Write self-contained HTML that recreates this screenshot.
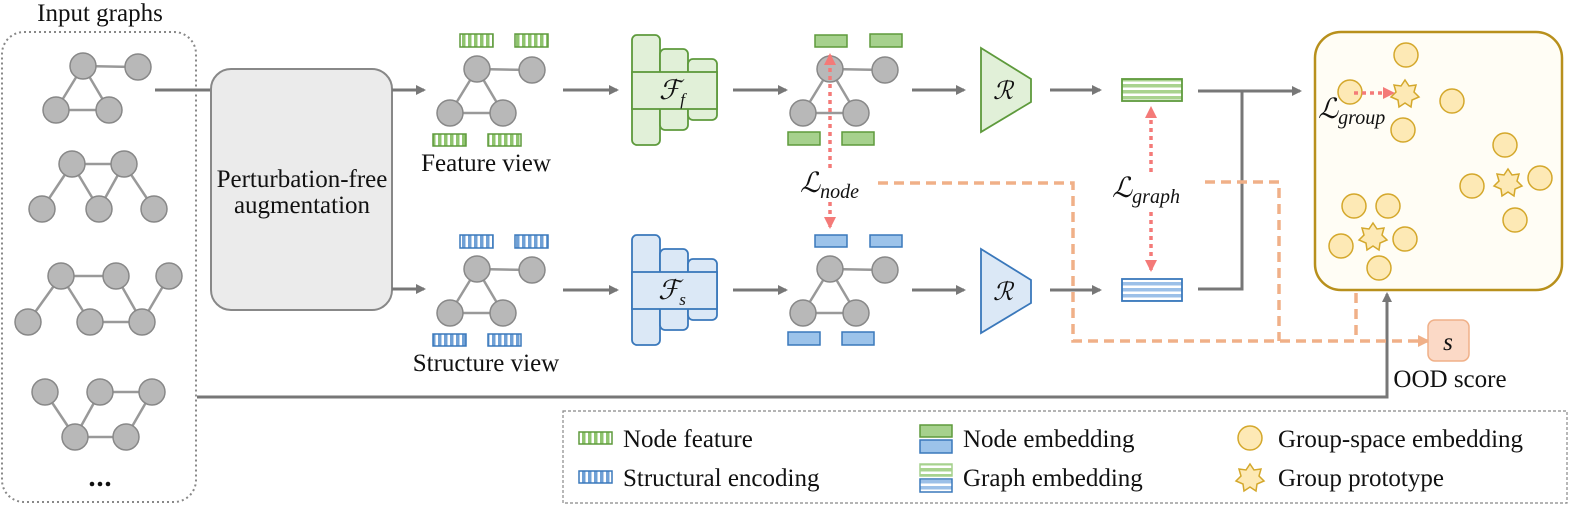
<!DOCTYPE html>
<html><head><meta charset="utf-8"><style>
html,body{margin:0;padding:0;background:#fff;}
svg{display:block;}
text{font-family:"Liberation Serif",serif;fill:#111;}
.m{font-style:italic;}
</style></head><body>
<svg width="1571" height="506" viewBox="0 0 1571 506" xmlns="http://www.w3.org/2000/svg">
<defs>
<pattern id="vg" width="6" height="10" patternUnits="userSpaceOnUse"><rect width="6" height="10" fill="#fff"/><rect width="3.5" height="10" fill="#8fc46e"/></pattern>
<pattern id="vb" width="6" height="10" patternUnits="userSpaceOnUse"><rect width="6" height="10" fill="#fff"/><rect width="3.5" height="10" fill="#6fa0d6"/></pattern>
<pattern id="hg" width="10" height="6" patternUnits="userSpaceOnUse"><rect width="10" height="6" fill="#fff"/><rect width="10" height="3.5" fill="#a9d38f"/></pattern>
<pattern id="hb" width="10" height="6" patternUnits="userSpaceOnUse"><rect width="10" height="6" fill="#fff"/><rect width="10" height="3.5" fill="#9cc0e8"/></pattern>
<marker id="ag" markerWidth="10" markerHeight="10" refX="8" refY="5" orient="auto" markerUnits="userSpaceOnUse"><path d="M0,0 L10,5 L0,10 z" fill="#777"/></marker>
<marker id="ar" markerWidth="12" markerHeight="12" refX="10" refY="6" orient="auto" markerUnits="userSpaceOnUse"><path d="M0,0 L12,6 L0,12 z" fill="#f47a78"/></marker>
<marker id="ao" markerWidth="12" markerHeight="12" refX="10" refY="6" orient="auto" markerUnits="userSpaceOnUse"><path d="M0,0 L12,6 L0,12 z" fill="#f0b088"/></marker>
<g id="tri">
<g stroke="#999" stroke-width="2.5"><line x1="0" y1="0" x2="55" y2="1"/><line x1="0" y1="0" x2="-27" y2="44"/><line x1="0" y1="0" x2="26" y2="44"/><line x1="-27" y1="44" x2="26" y2="44"/></g>
<g fill="#b8b8b8" stroke="#888" stroke-width="1.5"><circle cx="0" cy="0" r="13"/><circle cx="55" cy="1" r="13"/><circle cx="-27" cy="44" r="13"/><circle cx="26" cy="44" r="13"/></g>
</g>
<path id="star" d="M0,-14 L4,-8 L11,-9 L9,-2 L14,3 L7,6 L6,13 L0,9 L-6,13 L-7,6 L-14,3 L-9,-2 L-11,-9 L-4,-8 Z" fill="#fde9b5" stroke="#d4a82c" stroke-width="1.5"/>
</defs>

<!-- Input graphs -->
<text x="100" y="21" font-size="25" text-anchor="middle">Input graphs</text>
<rect x="2" y="32" width="194" height="470" rx="22" fill="none" stroke="#888" stroke-width="2" stroke-dasharray="2,3"/>
<use href="#tri" x="83" y="66"/>
<g stroke="#999" stroke-width="2.5">
<line x1="72" y1="164" x2="124" y2="164"/><line x1="72" y1="164" x2="42" y2="209"/><line x1="72" y1="164" x2="99" y2="209"/><line x1="124" y1="164" x2="99" y2="209"/><line x1="124" y1="164" x2="154" y2="209"/>
<line x1="61" y1="276" x2="116" y2="276"/><line x1="61" y1="276" x2="28" y2="322"/><line x1="61" y1="276" x2="90" y2="322"/><line x1="116" y1="276" x2="142" y2="322"/><line x1="142" y1="322" x2="169" y2="276"/><line x1="90" y1="322" x2="142" y2="322"/>
<line x1="45" y1="392" x2="75" y2="437"/><line x1="100" y1="392" x2="75" y2="437"/><line x1="100" y1="392" x2="152" y2="392"/><line x1="75" y1="437" x2="126" y2="437"/><line x1="126" y1="437" x2="152" y2="392"/>
</g>
<g fill="#b8b8b8" stroke="#888" stroke-width="1.5">
<circle cx="72" cy="164" r="13"/><circle cx="124" cy="164" r="13"/><circle cx="42" cy="209" r="13"/><circle cx="99" cy="209" r="13"/><circle cx="154" cy="209" r="13"/>
<circle cx="61" cy="276" r="13"/><circle cx="116" cy="276" r="13"/><circle cx="169" cy="276" r="13"/><circle cx="28" cy="322" r="13"/><circle cx="90" cy="322" r="13"/><circle cx="142" cy="322" r="13"/>
<circle cx="45" cy="392" r="13"/><circle cx="100" cy="392" r="13"/><circle cx="152" cy="392" r="13"/><circle cx="75" cy="437" r="13"/><circle cx="126" cy="437" r="13"/>
</g>
<g fill="#111"><circle cx="92" cy="484" r="2.3"/><circle cx="100" cy="484" r="2.3"/><circle cx="108" cy="484" r="2.3"/></g>

<!-- augmentation -->
<line x1="155" y1="90" x2="212" y2="90" stroke="#777" stroke-width="3"/>
<rect x="211" y="69" width="181" height="241" rx="20" fill="#ebebeb" stroke="#888" stroke-width="2"/>
<text x="302" y="187" font-size="25" text-anchor="middle">Perturbation-free</text>
<text x="302" y="213" font-size="25" text-anchor="middle">augmentation</text>

<g stroke="#777" stroke-width="3" fill="none" marker-end="url(#ag)">
<line x1="392" y1="90" x2="424" y2="90"/><line x1="392" y1="289" x2="424" y2="289"/>
<line x1="563" y1="90" x2="617" y2="90"/><line x1="563" y1="290" x2="617" y2="290"/>
<line x1="733" y1="90" x2="786" y2="90"/><line x1="733" y1="290" x2="786" y2="290"/>
<line x1="912" y1="90" x2="964" y2="90"/><line x1="912" y1="290" x2="964" y2="290"/>
<line x1="1050" y1="90" x2="1100" y2="90"/><line x1="1050" y1="290" x2="1100" y2="290"/>
<polyline points="1198,91 1300,91"/>
<polyline points="197,397 1387,397 1387,294"/>
</g>
<polyline points="1198,289 1242,289 1242,91" stroke="#777" stroke-width="3" fill="none"/>

<!-- feature view -->
<use href="#tri" x="477" y="69"/>
<g fill="url(#vg)" stroke="#5e9a3c" stroke-width="1.5"><rect x="460" y="34" width="33" height="13"/><rect x="515" y="34" width="33" height="13"/><rect x="433" y="134" width="33" height="12"/><rect x="488" y="134" width="33" height="12"/></g>
<text x="486" y="171" font-size="25" text-anchor="middle">Feature view</text>
<!-- structure view -->
<use href="#tri" x="477" y="269"/>
<g fill="url(#vb)" stroke="#3a78bb" stroke-width="1.5"><rect x="460" y="235" width="33" height="13"/><rect x="515" y="235" width="33" height="13"/><rect x="433" y="334" width="33" height="12"/><rect x="488" y="334" width="33" height="12"/></g>
<text x="486" y="371" font-size="25" text-anchor="middle">Structure view</text>

<!-- encoders -->
<g fill="#e1f0d8" stroke="#5e9a3c" stroke-width="1.8">
<rect x="632" y="35" width="28" height="110" rx="5"/><rect x="660" y="49" width="28" height="81" rx="5"/><rect x="688" y="59" width="29" height="61" rx="5"/><rect x="632" y="72" width="85" height="37"/>
</g>
<text x="672" y="99" font-size="27" class="m" text-anchor="middle">ℱ<tspan font-size="17" dy="6">f</tspan></text>
<g fill="#dbe8f6" stroke="#3a78bb" stroke-width="1.8">
<rect x="632" y="235" width="28" height="110" rx="5"/><rect x="660" y="249" width="28" height="81" rx="5"/><rect x="688" y="259" width="29" height="61" rx="5"/><rect x="632" y="272" width="85" height="37"/>
</g>
<text x="672" y="299" font-size="27" class="m" text-anchor="middle">ℱ<tspan font-size="17" dy="6">s</tspan></text>

<!-- node embeddings -->
<use href="#tri" x="830" y="69"/>
<g fill="#a6d18d" stroke="#5e9a3c" stroke-width="1.5"><rect x="815" y="35" width="32" height="12"/><rect x="870" y="34" width="32" height="13"/><rect x="788" y="132" width="32" height="13"/><rect x="842" y="132" width="32" height="13"/></g>
<use href="#tri" x="830" y="269"/>
<g fill="#9cc3ea" stroke="#3a78bb" stroke-width="1.5"><rect x="815" y="235" width="32" height="12"/><rect x="870" y="235" width="32" height="12"/><rect x="788" y="332" width="32" height="13"/><rect x="842" y="332" width="32" height="13"/></g>

<!-- R -->
<polygon points="981,48 1031,79 1031,102 981,132" fill="#e1f0d8" stroke="#5e9a3c" stroke-width="1.8"/>
<text x="1003" y="99" font-size="25" class="m" text-anchor="middle">ℛ</text>
<polygon points="981,249 1031,280 1031,303 981,333" fill="#dbe8f6" stroke="#3a78bb" stroke-width="1.8"/>
<text x="1003" y="300" font-size="25" class="m" text-anchor="middle">ℛ</text>

<!-- graph embeddings -->
<rect x="1122" y="79" width="60" height="22" fill="url(#hg)" stroke="#5e9a3c" stroke-width="1.8"/>
<rect x="1122" y="279" width="60" height="22" fill="url(#hb)" stroke="#3a78bb" stroke-width="1.8"/>

<!-- orange dashed -->
<g stroke="#f0b088" stroke-width="3.5" fill="none" stroke-dasharray="10,6">
<polyline points="878,183 1073,183 1073,341 1428,341" marker-end="url(#ao)"/>
<polyline points="1205,182 1279,182 1279,341"/>
<polyline points="1356,133 1356,341"/>
</g>
<rect x="1428" y="320" width="41" height="41" rx="7" fill="#fbd9c6" stroke="#f0b088" stroke-width="1.5"/>
<text x="1448" y="350" font-size="25" class="m" text-anchor="middle">s</text>
<text x="1450" y="387" font-size="25" text-anchor="middle">OOD score</text>

<!-- red dotted -->
<g stroke="#f47a78" stroke-width="3.5" fill="none" stroke-dasharray="4,4">
<line x1="830" y1="168" x2="830" y2="55" marker-end="url(#ar)"/>
<line x1="830" y1="202" x2="830" y2="227" marker-end="url(#ar)"/>
<line x1="1151" y1="172" x2="1151" y2="108" marker-end="url(#ar)"/>
<line x1="1151" y1="212" x2="1151" y2="270" marker-end="url(#ar)"/>
</g>
<text x="800" y="192" font-size="28" class="m">ℒ<tspan font-size="20" dy="6">node</tspan></text>
<text x="1112" y="197" font-size="28" class="m">ℒ<tspan font-size="20" dy="6">graph</tspan></text>

<!-- group space -->
<rect x="1315" y="32" width="247" height="258" rx="26" fill="#fffdf5" stroke="#b8901c" stroke-width="2.5"/>
<g fill="#fde9b5" stroke="#d4a82c" stroke-width="1.5">
<circle cx="1406" cy="55" r="12"/><circle cx="1350" cy="92" r="12"/><circle cx="1452" cy="101" r="12"/><circle cx="1403" cy="130" r="12"/><circle cx="1505" cy="145" r="12"/><circle cx="1472" cy="186" r="12"/><circle cx="1540" cy="178" r="12"/><circle cx="1515" cy="220" r="12"/><circle cx="1354" cy="206" r="12"/><circle cx="1388" cy="206" r="12"/><circle cx="1341" cy="246" r="12"/><circle cx="1405" cy="239" r="12"/><circle cx="1379" cy="268" r="12"/>
</g>
<use href="#star" x="1405" y="94"/><use href="#star" x="1508" y="183"/><use href="#star" x="1373" y="237"/>
<g stroke="#f47a78" stroke-width="3.5" fill="none" stroke-dasharray="4,4"><line x1="1354" y1="93" x2="1393" y2="93" marker-end="url(#ar)"/></g>
<text x="1318" y="118" font-size="28" class="m">ℒ<tspan font-size="20" dy="6">group</tspan></text>

<!-- legend -->
<rect x="563" y="411" width="1004" height="92" fill="none" stroke="#888" stroke-width="1.2" stroke-dasharray="3,2"/>
<rect x="579" y="432" width="33" height="12" fill="url(#vg)" stroke="#5e9a3c" stroke-width="1.5"/>
<text x="623" y="447" font-size="25">Node feature</text>
<rect x="579" y="471" width="33" height="12" fill="url(#vb)" stroke="#3a78bb" stroke-width="1.5"/>
<text x="623" y="486" font-size="25">Structural encoding</text>
<rect x="920" y="425" width="32" height="12" fill="#a6d18d" stroke="#5e9a3c" stroke-width="1.5"/>
<rect x="920" y="440" width="32" height="13" fill="#9cc3ea" stroke="#3a78bb" stroke-width="1.5"/>
<text x="963" y="447" font-size="25">Node embedding</text>
<rect x="920" y="464" width="32" height="12" fill="url(#hg)" stroke="#a6d18d" stroke-width="1.5"/>
<rect x="920" y="479" width="32" height="13" fill="url(#hb)" stroke="#3a78bb" stroke-width="1.5"/>
<text x="963" y="486" font-size="25">Graph embedding</text>
<circle cx="1250" cy="438" r="12" fill="#fde9b5" stroke="#d4a82c" stroke-width="1.5"/>
<text x="1278" y="447" font-size="25">Group-space embedding</text>
<use href="#star" x="1250" y="478"/>
<text x="1278" y="486" font-size="25">Group prototype</text>
</svg>
</body></html>
